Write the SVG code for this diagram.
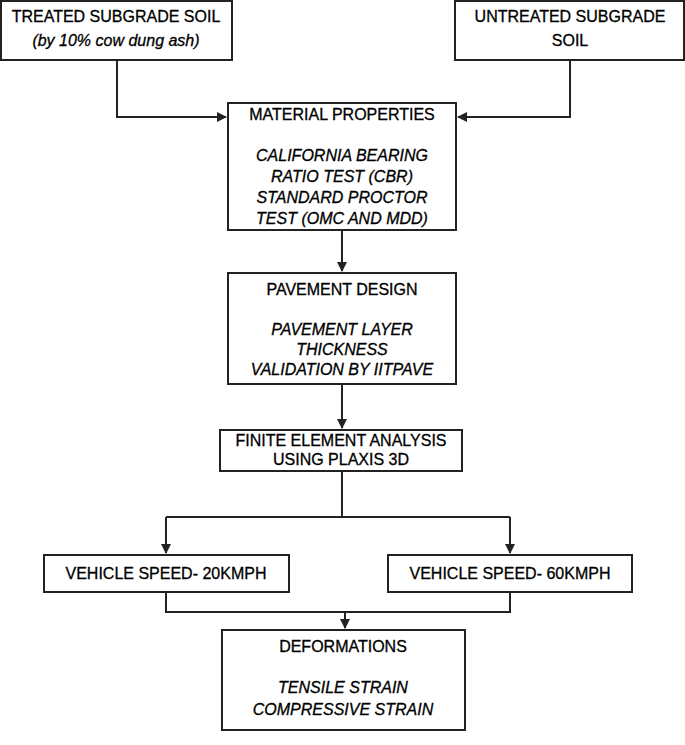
<svg xmlns="http://www.w3.org/2000/svg" width="685" height="745" viewBox="0 0 685 745">
<style>
rect{fill:#fff;stroke:#222;stroke-width:2}
text{font-family:"Liberation Sans",Arial,sans-serif;font-size:16px;fill:#000;stroke:#000;stroke-width:0.3;text-anchor:middle}
.i{font-style:italic}
.c{fill:none;stroke:#222;stroke-width:2}
</style>
<defs><marker id="a" markerWidth="10" markerHeight="10" refX="9" refY="5" orient="auto" markerUnits="userSpaceOnUse"><path d="M0,0L10,5L0,10z" fill="#222"/></marker></defs>
<rect width="685" height="745" style="fill:#fff;stroke:none"/>
<g id="connectors">
<path class="c" d="M117,61V117H226" marker-end="url(#a)"/>
<path class="c" d="M570,61V117H458" marker-end="url(#a)"/>
<path class="c" d="M342,230V271" marker-end="url(#a)"/>
<path class="c" d="M342,384V428" marker-end="url(#a)"/>
<path class="c" d="M342,471V517"/>
<path class="c" d="M166,517H510"/>
<path class="c" d="M166,517V553" marker-end="url(#a)"/>
<path class="c" d="M510,517V553" marker-end="url(#a)"/>
<path class="c" d="M166,592V612H510V592"/>
<path class="c" d="M345,612V628" marker-end="url(#a)"/>
</g>
<g id="n1"><rect x="1" y="1" width="231" height="59"/><text x="116" y="22">TREATED SUBGRADE SOIL</text><text class="i" x="116" y="46">(by 10% cow dung ash)</text></g>
<g id="n2"><rect x="455" y="1" width="229" height="59"/><text x="570" y="22">UNTREATED SUBGRADE</text><text x="570" y="46">SOIL</text></g>
<g id="n3"><rect x="228" y="103" width="228" height="127"/><text x="342" y="120">MATERIAL PROPERTIES</text><text class="i" x="342" y="161">CALIFORNIA BEARING</text><text class="i" x="342" y="182">RATIO TEST (CBR)</text><text class="i" x="342" y="203">STANDARD PROCTOR</text><text class="i" x="342" y="224">TEST (OMC AND MDD)</text></g>
<g id="n4"><rect x="228" y="273" width="228" height="111"/><text x="342" y="295">PAVEMENT DESIGN</text><text class="i" x="342" y="335">PAVEMENT LAYER</text><text class="i" x="342" y="355">THICKNESS</text><text class="i" x="342" y="375">VALIDATION BY IITPAVE</text></g>
<g id="n5"><rect x="220" y="430" width="242" height="41"/><text x="341" y="446">FINITE ELEMENT ANALYSIS</text><text x="341" y="465">USING PLAXIS 3D</text></g>
<g id="n6"><rect x="44" y="555" width="245" height="37"/><text x="166" y="579">VEHICLE SPEED- 20KMPH</text></g>
<g id="n7"><rect x="388" y="555" width="244" height="37"/><text x="510" y="579">VEHICLE SPEED- 60KMPH</text></g>
<g id="n8"><rect x="222" y="630" width="243" height="100"/><text x="343" y="652">DEFORMATIONS</text><text class="i" x="343" y="693">TENSILE STRAIN</text><text class="i" x="343" y="715">COMPRESSIVE STRAIN</text></g>
</svg>
